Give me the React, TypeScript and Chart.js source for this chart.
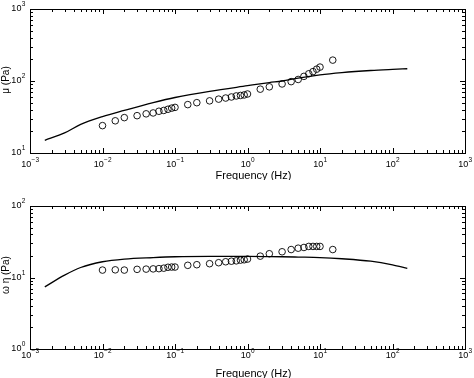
import React, { useEffect, useRef } from 'react';
import { Chart, registerables } from 'chart.js';

Chart.register(...registerables);

// ---------- data ----------
const measuredFreq = [0.01, 0.015, 0.02, 0.03, 0.04, 0.05, 0.06, 0.07, 0.08, 0.09, 0.1, 0.15, 0.2, 0.3, 0.4, 0.5, 0.6, 0.7, 0.8, 0.9, 1, 1.5, 2, 3, 4, 5, 6, 7, 8, 9, 10, 15];
const muMeasured = [24, 28, 31, 33, 35, 36, 38, 39, 40.5, 42, 43, 47, 50, 53, 56, 58, 60, 62, 63, 64, 66, 77, 83, 91, 98, 105, 116, 126, 135, 146, 156, 195];
const omegaEtaMeasured = [12.7, 12.8, 12.7, 13, 13.1, 13.2, 13.3, 13.5, 13.9, 14, 14, 14.8, 15.1, 15.6, 16.1, 16.6, 16.9, 17.1, 17.5, 17.7, 18.1, 19.9, 21.5, 22.9, 24.6, 25.7, 26.3, 27.2, 27.2, 27.2, 27.2, 24.6];

const modelFreq = [0.0016, 0.003, 0.005, 0.01, 0.02, 0.05, 0.1, 0.3, 1, 2, 3, 5, 10, 20, 50, 100, 160];
const muModel = [15, 19, 25, 32, 39, 50, 59, 72, 86, 95, 100, 110, 122, 131, 140, 145, 148];
const omegaEtaModel = [7.4, 10.8, 13.8, 16.6, 18.1, 19.0, 19.5, 19.7, 19.7, 19.6, 19.5, 19.3, 19.0, 18.3, 16.9, 15.0, 13.4];

const xTickExps = [-3, -2, -1, 0, 1, 2, 3];
const muTickExps = [1, 2, 3];
const omegaEtaTickExps = [0, 1, 2];

const xTitle = 'Frequency (Hz)';
const muTitle = 'μ (Pa)';
const omegaEtaTitle = 'ω η (Pa)';

const FONT = '"Liberation Sans", Arial, Helvetica, sans-serif';

type PanelCfg = {
  yExps: number[];
  yTitle: string;
  yTitleCenter: number;
  xLabelGap: number;
  xTitleGap: number;
};

function drawPow(ctx: CanvasRenderingContext2D, x: number, yMid: number, exp: number, align: 'center' | 'right') {
  const base = '10';
  const sup = String(exp).replace('-', '−');
  ctx.font = `9px ${FONT}`;
  const wb = ctx.measureText(base).width;
  ctx.font = `6.5px ${FONT}`;
  const ws = ctx.measureText(sup).width;
  const total = wb + ws;
  const x0 = align === 'center' ? x - total / 2 : x - total;
  ctx.textAlign = 'left';
  ctx.textBaseline = 'middle';
  ctx.font = `9px ${FONT}`;
  ctx.fillText(base, x0, yMid);
  ctx.font = `6.5px ${FONT}`;
  ctx.fillText(sup, x0 + wb + 0.3, yMid - 4.5);
}

function makeFramePlugin(cfg: PanelCfg) {
  return {
    id: 'frameAxes',
    afterDatasetsDraw(chart: any) {
      const ctx: CanvasRenderingContext2D = chart.ctx;
      const { left, right, top, bottom } = chart.chartArea;
      const xs = chart.scales.x;
      const ys = chart.scales.y;
      ctx.save();
      ctx.strokeStyle = '#000';
      ctx.fillStyle = '#000';
      ctx.lineWidth = 1;
      ctx.strokeRect(Math.round(left) + 0.5, Math.round(top) + 0.5, Math.round(right - left), Math.round(bottom - top));

      ctx.beginPath();
      for (let e = xTickExps[0]; e <= xTickExps[xTickExps.length - 1]; e++) {
        for (let m = 1; m <= 9; m++) {
          const v = m * Math.pow(10, e);
          if (v > xs.max * 1.0001) break;
          const px = Math.round(xs.getPixelForValue(v)) + 0.5;
          const len = m === 1 ? 5 : 3;
          ctx.moveTo(px, bottom);
          ctx.lineTo(px, bottom - len);
          ctx.moveTo(px, top);
          ctx.lineTo(px, top + len);
        }
      }
      const yE = cfg.yExps;
      for (let e = yE[0]; e <= yE[yE.length - 1]; e++) {
        for (let m = 1; m <= 9; m++) {
          const v = m * Math.pow(10, e);
          if (v > ys.max * 1.0001) break;
          const py = Math.round(ys.getPixelForValue(v)) + 0.5;
          const len = m === 1 ? 5 : 3;
          ctx.moveTo(left, py);
          ctx.lineTo(left + len, py);
          ctx.moveTo(right, py);
          ctx.lineTo(right - len, py);
        }
      }
      ctx.stroke();

      xTickExps.forEach((e) => {
        const px = xs.getPixelForValue(Math.pow(10, e));
        drawPow(ctx, px, bottom + cfg.xLabelGap, e, 'center');
      });
      yE.forEach((e) => {
        const py = ys.getPixelForValue(Math.pow(10, e));
        drawPow(ctx, left - 5, py, e, 'right');
      });

      ctx.font = `11px ${FONT}`;
      ctx.textAlign = 'center';
      ctx.textBaseline = 'alphabetic';
      ctx.fillText(xTitle, (left + right) / 2 + 6, bottom + cfg.xTitleGap);

      ctx.save();
      ctx.translate(9, cfg.yTitleCenter);
      ctx.rotate(-Math.PI / 2);
      ctx.font = `10px ${FONT}`;
      ctx.textAlign = 'center';
      ctx.textBaseline = 'alphabetic';
      ctx.fillText(cfg.yTitle, 0, 0);
      ctx.restore();

      ctx.restore();
    },
  };
}

function buildConfig(
  modelY: number[],
  measuredY: number[],
  yMin: number,
  yMax: number,
  padding: { left: number; right: number; top: number; bottom: number },
  cfg: PanelCfg
): any {
  return {
    type: 'line',
    data: {
      datasets: [
        {
          label: 'model',
          data: modelFreq.map((f, i) => ({ x: f, y: modelY[i] })),
          borderColor: '#000',
          borderWidth: 1.3,
          pointRadius: 0,
          cubicInterpolationMode: 'monotone',
          fill: false,
        },
        {
          label: 'measured',
          data: measuredFreq.map((f, i) => ({ x: f, y: measuredY[i] })),
          showLine: false,
          pointStyle: 'circle',
          pointRadius: 3.3,
          pointBorderWidth: 0.9,
          pointBorderColor: '#000',
          pointBackgroundColor: 'rgba(0,0,0,0)',
          borderColor: '#000',
        },
      ],
    },
    options: {
      responsive: false,
      animation: false,
      devicePixelRatio: 1,
      layout: { padding },
      plugins: { legend: { display: false }, tooltip: { enabled: false } },
      scales: {
        x: { type: 'logarithmic', min: 1e-3, max: 1e3, display: false },
        y: { type: 'logarithmic', min: yMin, max: yMax, display: false },
      },
    },
    plugins: [makeFramePlugin(cfg)],
  };
}

export default function App() {
  const topRef = useRef<HTMLCanvasElement>(null);
  const botRef = useRef<HTMLCanvasElement>(null);

  useEffect(() => {
    document.body.style.margin = '0';
    const c1 = new Chart(
      topRef.current as HTMLCanvasElement,
      buildConfig(muModel, muMeasured, 10, 1000, { left: 30, right: 9, top: 9, bottom: 27 }, {
        yExps: muTickExps,
        yTitle: muTitle,
        yTitleCenter: 80,
        xLabelGap: 12,
        xTitleGap: 25.5,
      })
    );
    const c2 = new Chart(
      botRef.current as HTMLCanvasElement,
      buildConfig(omegaEtaModel, omegaEtaMeasured, 1, 100, { left: 30, right: 9, top: 26, bottom: 29 }, {
        yExps: omegaEtaTickExps,
        yTitle: omegaEtaTitle,
        yTitleCenter: 95,
        xLabelGap: 6.5,
        xTitleGap: 28,
      })
    );
    return () => {
      c1.destroy();
      c2.destroy();
    };
  }, []);

  return (
    <div style={{ position: 'relative', width: 474, height: 378, background: '#fff', overflow: 'hidden' }}>
      <canvas ref={topRef} width={474} height={180} style={{ position: 'absolute', left: 0, top: 0, width: 474, height: 180 }} />
      <canvas ref={botRef} width={474} height={198} style={{ position: 'absolute', left: 0, top: 180, width: 474, height: 198 }} />
    </div>
  );
}
